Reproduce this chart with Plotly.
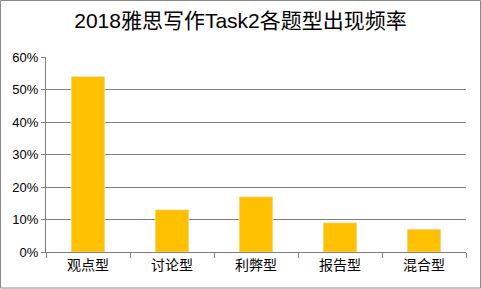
import plotly.graph_objects as go

categories = ["观点型", "讨论型", "利弊型", "报告型", "混合型"]
values = [54, 13, 17, 9, 7]
title_text = "2018雅思写作Task2各题型出现频率"

W, H = 481, 289
ml, mr, mt, mb = 46, 15, 57, 37
pw, ph = W - ml - mr, H - mt - mb

fig = go.Figure(go.Bar(x=categories, y=values, marker_color="#FFC000", width=0.4))

fig.update_layout(
    width=W, height=H,
    margin=dict(l=ml, r=mr, t=mt, b=mb, pad=0),
    paper_bgcolor="white", plot_bgcolor="white",
    font=dict(family="Liberation Sans, Noto Sans CJK SC, sans-serif", color="#000000", size=13),
    title=dict(text=title_text, x=0.5, xanchor="center", y=1 - 21 / H, yanchor="middle",
               font=dict(size=21, family="Liberation Sans, Noto Sans CJK SC, sans-serif")),
    showlegend=False,
    bargap=0.6,
)
fig.update_yaxes(range=[0, 60], dtick=10, ticksuffix="%", showgrid=True, gridcolor="#808080",
                 gridwidth=1, showline=True, linecolor="#808080", ticks="outside", ticklen=4,
                 tickcolor="#808080", zeroline=False, tickfont=dict(size=13))
fig.update_xaxes(showline=True, linecolor="#808080", ticks="outside", tickson="boundaries",
                 ticklen=5, tickcolor="#808080",
                 tickfont=dict(size=14, family="Noto Sans CJK SC"))

fig.add_shape(type="rect", xref="paper", yref="paper",
              x0=-(ml - 0.5) / pw, x1=1 + (mr - 0.5) / pw,
              y0=-(mb - 1) / ph, y1=1 + (mt - 0.5) / ph,
              line=dict(color="#888888", width=1), fillcolor="rgba(0,0,0,0)")

fig.write_html("out.html")
